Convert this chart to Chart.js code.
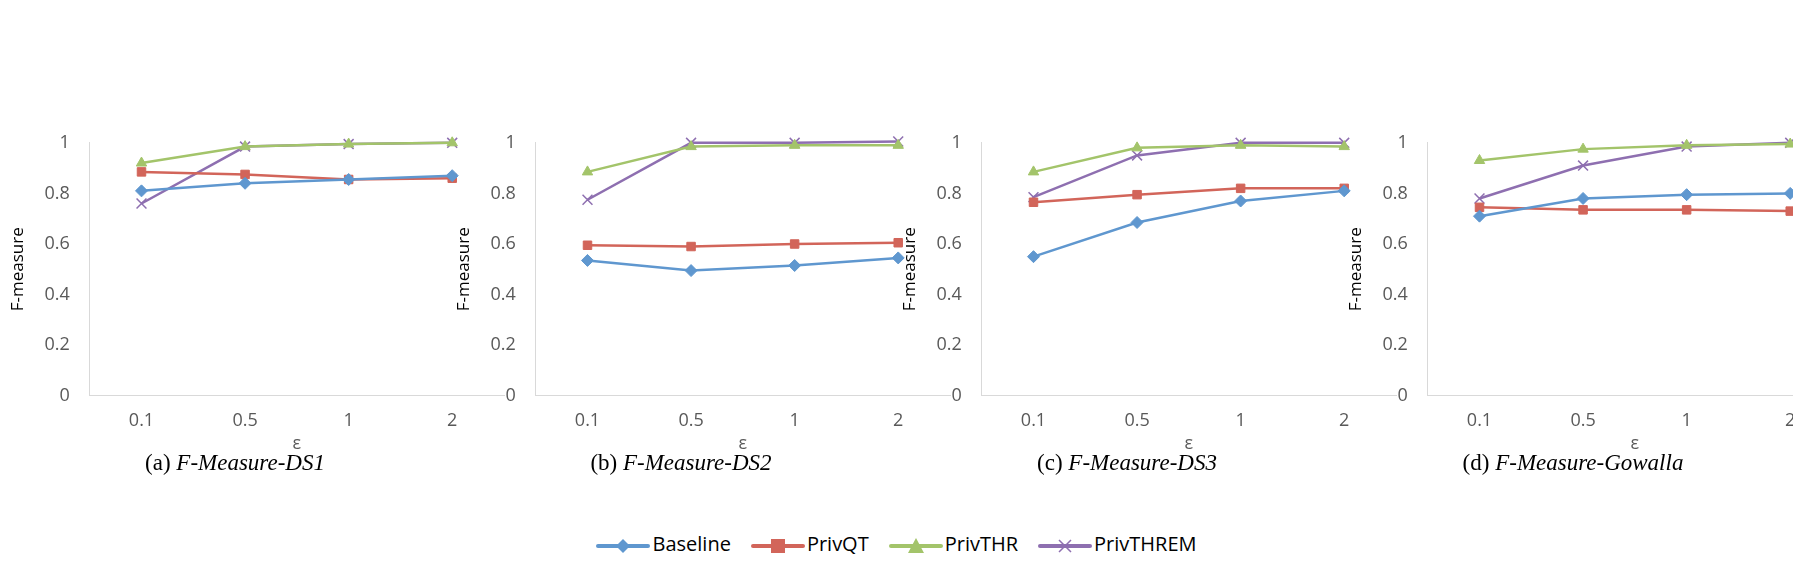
<!DOCTYPE html>
<html>
<head>
<meta charset="utf-8">
<script src="https://cdn.jsdelivr.net/npm/chart.js@4"></script>
<style>
  body { margin: 0; background: #fff; width: 1793px; height: 570px; position: relative; overflow: hidden; }
  .panel { position: absolute; top: 120px; width: 520px; height: 335px; }
  .cap { position: absolute; top: 450px; width: 520px; text-align: center; font: 23px "Liberation Serif", serif; color: #000; }
  .cap i { font-style: italic; }
  #legend { position: absolute; top: 530px; left: 0; width: 1793px; text-align: center; font: 20px "Open Sans", sans-serif; color: #000; }
  #legend span { display: inline-block; margin: 0 10px; }
  #legend svg { vertical-align: middle; margin-right: 2px; }
</style>
</head>
<body>
<div class="panel" style="left:0"><canvas id="c0"></canvas></div>
<div class="panel" style="left:446px"><canvas id="c1"></canvas></div>
<div class="panel" style="left:892px"><canvas id="c2"></canvas></div>
<div class="panel" style="left:1338px"><canvas id="c3"></canvas></div>
<div class="cap" style="left:-25px">(a) <i>F-Measure-DS1</i></div>
<div class="cap" style="left:421px">(b) <i>F-Measure-DS2</i></div>
<div class="cap" style="left:867px">(c) <i>F-Measure-DS3</i></div>
<div class="cap" style="left:1313px">(d) <i>F-Measure-Gowalla</i></div>
<div id="legend"></div>
<script>
const epsilons = ['0.1', '0.5', '1', '2'];
const yTicks = [0, 0.2, 0.4, 0.6, 0.8, 1];
const seriesNames = ['Baseline', 'PrivQT', 'PrivTHR', 'PrivTHREM'];
const seriesColors = ['#5f97cf', '#d2655a', '#a3c46a', '#8e6fb0'];
const seriesMarkers = ['rectRot', 'rect', 'triangle', 'crossRot'];

// one row per series: Baseline, PrivQT, PrivTHR, PrivTHREM
const ds1 = [[0.81, 0.84, 0.855, 0.87], [0.885, 0.875, 0.855, 0.86], [0.92, 0.985, 0.995, 1.0], [0.76, 0.985, 0.995, 1.0]];
const ds2 = [[0.535, 0.495, 0.515, 0.545], [0.595, 0.59, 0.6, 0.605], [0.885, 0.985, 0.99, 0.99], [0.775, 1.0, 1.0, 1.005]];
const ds3 = [[0.55, 0.685, 0.77, 0.81], [0.765, 0.795, 0.82, 0.82], [0.885, 0.98, 0.99, 0.985], [0.785, 0.95, 1.0, 1.0]];
const gowalla = [[0.71, 0.78, 0.795, 0.8], [0.745, 0.735, 0.735, 0.73], [0.93, 0.975, 0.99, 0.995], [0.78, 0.91, 0.985, 1.0]];
const panels = [ds1, ds2, ds3, gowalla];

const tickFont = { family: '"Open Sans", sans-serif', size: 18 };

function makeChart(id, rows) {
    new Chart(document.getElementById(id), {
        type: 'line',
        data: {
            labels: epsilons,
            datasets: rows.map((vals, i) => ({
                label: seriesNames[i],
                data: vals,
                borderColor: seriesColors[i],
                backgroundColor: seriesColors[i],
                borderWidth: 2.5,
                pointStyle: seriesMarkers[i],
                pointRadius: i === 3 ? 7 : 6,
                pointBorderWidth: i === 3 ? 1.5 : 1,
                tension: 0,
                clip: false
            }))
        },
        options: {
            responsive: true,
            maintainAspectRatio: false,
            animation: false,
            layout: { padding: { left: 4, right: 16, top: 20, bottom: 0 } },
            plugins: { legend: { display: false }, tooltip: { enabled: false } },
            scales: {
                x: {
                    offset: true,
                    grid: { display: false },
                    border: { color: '#d9d9d9' },
                    ticks: { color: '#595959', font: tickFont, padding: 6 },
                    title: { display: true, text: 'ε', color: '#595959', font: tickFont, padding: { top: -4, bottom: 0 } }
                },
                y: {
                    min: 0, max: 1,
                    afterBuildTicks: ax => { ax.ticks = yTicks.map(v => ({ value: v })); },
                    grid: { display: false },
                    border: { color: '#d9d9d9' },
                    ticks: { color: '#595959', font: tickFont, padding: 12, callback: v => String(v) },
                    title: { display: true, text: 'F-measure', color: '#000', font: { family: '"Open Sans", sans-serif', size: 17 } }
                }
            }
        }
    });
}
panels.forEach((rows, i) => makeChart('c' + i, rows));

// legend
const legend = document.getElementById('legend');
const markerSvg = [
    '<polygon points="27,3 34,10 27,17 20,10" fill="#5f97cf"/>',
    '<rect x="20" y="3" width="14" height="14" fill="#d2655a"/>',
    '<polygon points="27,2 35,17 19,17" fill="#a3c46a"/>',
    '<path d="M21,4 L33,16 M33,4 L21,16" stroke="#8e6fb0" stroke-width="1.5"/>'
];
seriesNames.forEach((name, i) => {
    const s = document.createElement('span');
    s.innerHTML = `<svg width="54" height="20"><line x1="2" y1="10" x2="52" y2="10" stroke="${seriesColors[i]}" stroke-width="4" stroke-linecap="round"/>${markerSvg[i]}</svg>${name}`;
    legend.appendChild(s);
});
</script>
</body>
</html>
